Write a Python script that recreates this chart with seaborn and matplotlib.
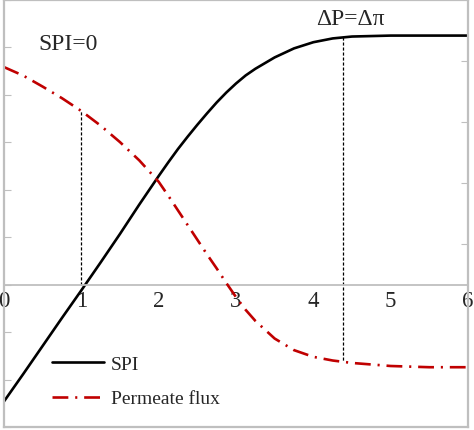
import matplotlib
matplotlib.use("Agg")
import matplotlib.pyplot as plt
import seaborn as sns
import pandas as pd
import numpy as np

# data
x_vals = [0, 0.25, 0.5, 0.75, 1.0, 1.25, 1.5, 1.75, 2.0, 2.125, 2.25, 2.375, 2.5, 2.625, 2.75,
          2.875, 3.0, 3.125, 3.25, 3.5, 3.75, 4.0, 4.25, 4.5, 5.0, 5.5, 6.0]
spi = [-2.46, -1.88, -1.29, -0.70, -0.12, 0.47, 1.07, 1.69, 2.29, 2.58, 2.86, 3.12, 3.37, 3.61, 3.84,
       4.05, 4.24, 4.41, 4.55, 4.79, 4.98, 5.11, 5.19, 5.23, 5.25, 5.25, 5.25]
flux = [5.90, 5.76, 5.58, 5.39, 5.18, 4.94, 4.67, 4.37, 4.02, 3.79, 3.55, 3.31, 3.07, 2.83, 2.60,
        2.36, 2.13, 1.92, 1.74, 1.45, 1.26, 1.15, 1.09, 1.05, 1.00, 0.98, 0.98]
x_ticks = [0, 1, 2, 3, 4, 5, 6]

# marker lines: SPI=0 at x=1, dP=dpi at x=4.38
spi_zero_x = 1.0
spi_zero_flux = 5.18
dp_x = 4.38
dp_spi = 5.22
dp_flux = 1.07

df = pd.DataFrame({"x": x_vals, "SPI": spi, "flux": flux})

sns.set_style("white")
plt.rcParams['font.family'] = ['Liberation Serif', 'DejaVu Serif']

fig = plt.figure(figsize=(4.74, 4.31), dpi=100)
ax = fig.add_axes([4/474, 3/431, 464/474, 427/431])
ax2 = ax.twinx()

grey = "#bfbfbf"
red = "#c00000"

sns.lineplot(data=df, x="x", y="SPI", ax=ax, color="black", lw=1.9, label="SPI", legend=False)
sns.lineplot(data=df, x="x", y="flux", ax=ax2, color=red, lw=1.9,
             linestyle=(0, (6, 2.6, 0.8, 2.6)), label="Permeate flux", legend=False)

ax.set_xlim(0, 6)
ax.set_ylim(-3, 6)
ax2.set_ylim(0, 7)

# dashed guide lines (converted from right-axis data to left-axis data)
def flux_to_left(xv, fv):
    pix = ax2.transData.transform((xv, fv))
    return ax.transData.inverted().transform(pix)[1]

ax.plot([spi_zero_x, spi_zero_x], [0, flux_to_left(spi_zero_x, spi_zero_flux)],
        color="black", lw=0.9, linestyle=(0, (2.5, 1.5)))
ax.plot([dp_x, dp_x], [dp_spi, flux_to_left(dp_x, dp_flux)],
        color="black", lw=0.9, linestyle=(0, (2.5, 1.5)))

# axes styling
ax.spines['bottom'].set_position(('data', 0))
for s in ax.spines.values():
    s.set_color(grey)
    s.set_linewidth(1.3)
for s in ax2.spines.values():
    s.set_color(grey)
    s.set_linewidth(1.6)
ax.spines['top'].set_visible(False)

ax.set_xticks(x_ticks)
ax.set_xticklabels([str(t) for t in x_ticks], fontsize=16.5)
ax.set_yticks(range(-3, 7))
ax.set_yticklabels([])
ax2.set_yticks([3, 4, 5, 6])
ax2.set_yticklabels([])
ax.tick_params(axis='x', direction='in', length=5, color=grey, pad=4)
ax.tick_params(axis='y', direction='in', length=5, color=grey)
ax2.tick_params(axis='y', direction='in', length=5, color=grey)
ax.set_xlabel("")
ax.set_ylabel("")
ax2.set_ylabel("")

ax.text(0.83, 5.08, "SPI=0", fontsize=17, ha="center", va="center")
ax.text(4.48, 5.61, "ΔP=Δπ", fontsize=17, ha="center", va="center")

h1, l1 = ax.get_legend_handles_labels()
h2, l2 = ax2.get_legend_handles_labels()
ax2.legend(h1 + h2, l1 + l2, loc="lower left", bbox_to_anchor=(0.065, 0.005),
           frameon=False, fontsize=14, handlelength=2.7, handletextpad=0.35,
           labelspacing=0.85)

fig.savefig("out.png", dpi=100)
